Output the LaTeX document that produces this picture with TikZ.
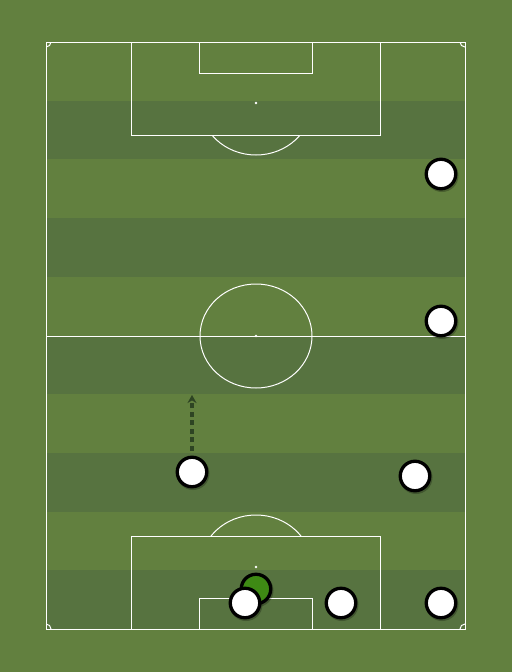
\documentclass[tikz,border=0pt]{standalone}
\usetikzlibrary{arrows.meta}
\definecolor{grasslight}{HTML}{62803F}
\definecolor{grassdark}{HTML}{577340}
\definecolor{keepergreen}{HTML}{3E8A14}
\definecolor{arrowcol}{HTML}{2E4423}
\tikzset{
  pline/.style={draw=white, line width=1pt},
  player/.style={circle, draw=black, line width=3.3pt, fill=white, minimum size=29.5pt, inner sep=0pt},
  keeper/.style={player, fill=keepergreen},
  shadowc/.style={circle, fill=black, opacity=0.25, minimum size=33pt, inner sep=0pt},
  runarrow/.style={draw=arrowcol, line width=3.2pt, dash pattern=on 5pt off 3.5pt, -{Stealth[length=8pt,width=9pt]}, shorten <=5pt}
}
\begin{document}
\begin{tikzpicture}[x=1pt,y=-1pt]
\useasboundingbox (0,0) rectangle (512,672);
\fill[grasslight] (0,0) rectangle (512,672);
% stripes
\foreach \i in {1,3,5,7,9} {
  \fill[grassdark] (46,{42+\i*58.7}) rectangle (465,{42+(\i+1)*58.7});
}
% outline
\draw[pline] (46,42) rectangle (465,629);
\draw[pline] (46,336) -- (465,336);
\draw[pline] (256,336) ellipse [x radius=56pt, y radius=52pt];
\fill[white] (256,336) circle (1.3pt);
% top box
\draw[pline] (131,42) rectangle (380,135);
\draw[pline] (199,42) rectangle (312,73);
\fill[white] (256,103) circle (1.3pt);
\begin{scope}
  \clip (100,135) rectangle (400,170);
  \draw[pline] (256,103) ellipse [x radius=56pt, y radius=52pt];
\end{scope}
% bottom box
\draw[pline] (131,536) rectangle (380,629);
\draw[pline] (199,598) rectangle (312,629);
\fill[white] (256,567) circle (1.3pt);
\begin{scope}
  \clip (100,500) rectangle (400,536);
  \draw[pline] (256,567) ellipse [x radius=56pt, y radius=52pt];
\end{scope}
% corners
\begin{scope}
  \clip (46,42) rectangle (465,629);
  \draw[pline] (46,42) circle (5pt);
  \draw[pline] (465,42) circle (5pt);
  \draw[pline] (46,629) circle (5pt);
  \draw[pline] (465,629) circle (5pt);
\end{scope}
% shadows
\foreach \x/\y in {441/174, 441/321, 192/472, 415/476, 256/589, 245/603, 341/603, 441/603} {
  \node[shadowc] at (\x+1,\y+1.5) {};
}
% players
\node[player] (p1) at (441,174) {};
\node[player] (p2) at (441,321) {};
\node[player] (p3) at (192,472) {};
\node[player] (p4) at (415,476) {};
\node[keeper] (gk) at (256,589) {};
\node[player] (p5) at (245,603) {};
\node[player] (p6) at (341,603) {};
\node[player] (p7) at (441,603) {};
\coordinate (run3) at (192,395);
\draw[runarrow] (p3.north) -- (run3);
\end{tikzpicture}
\end{document}
